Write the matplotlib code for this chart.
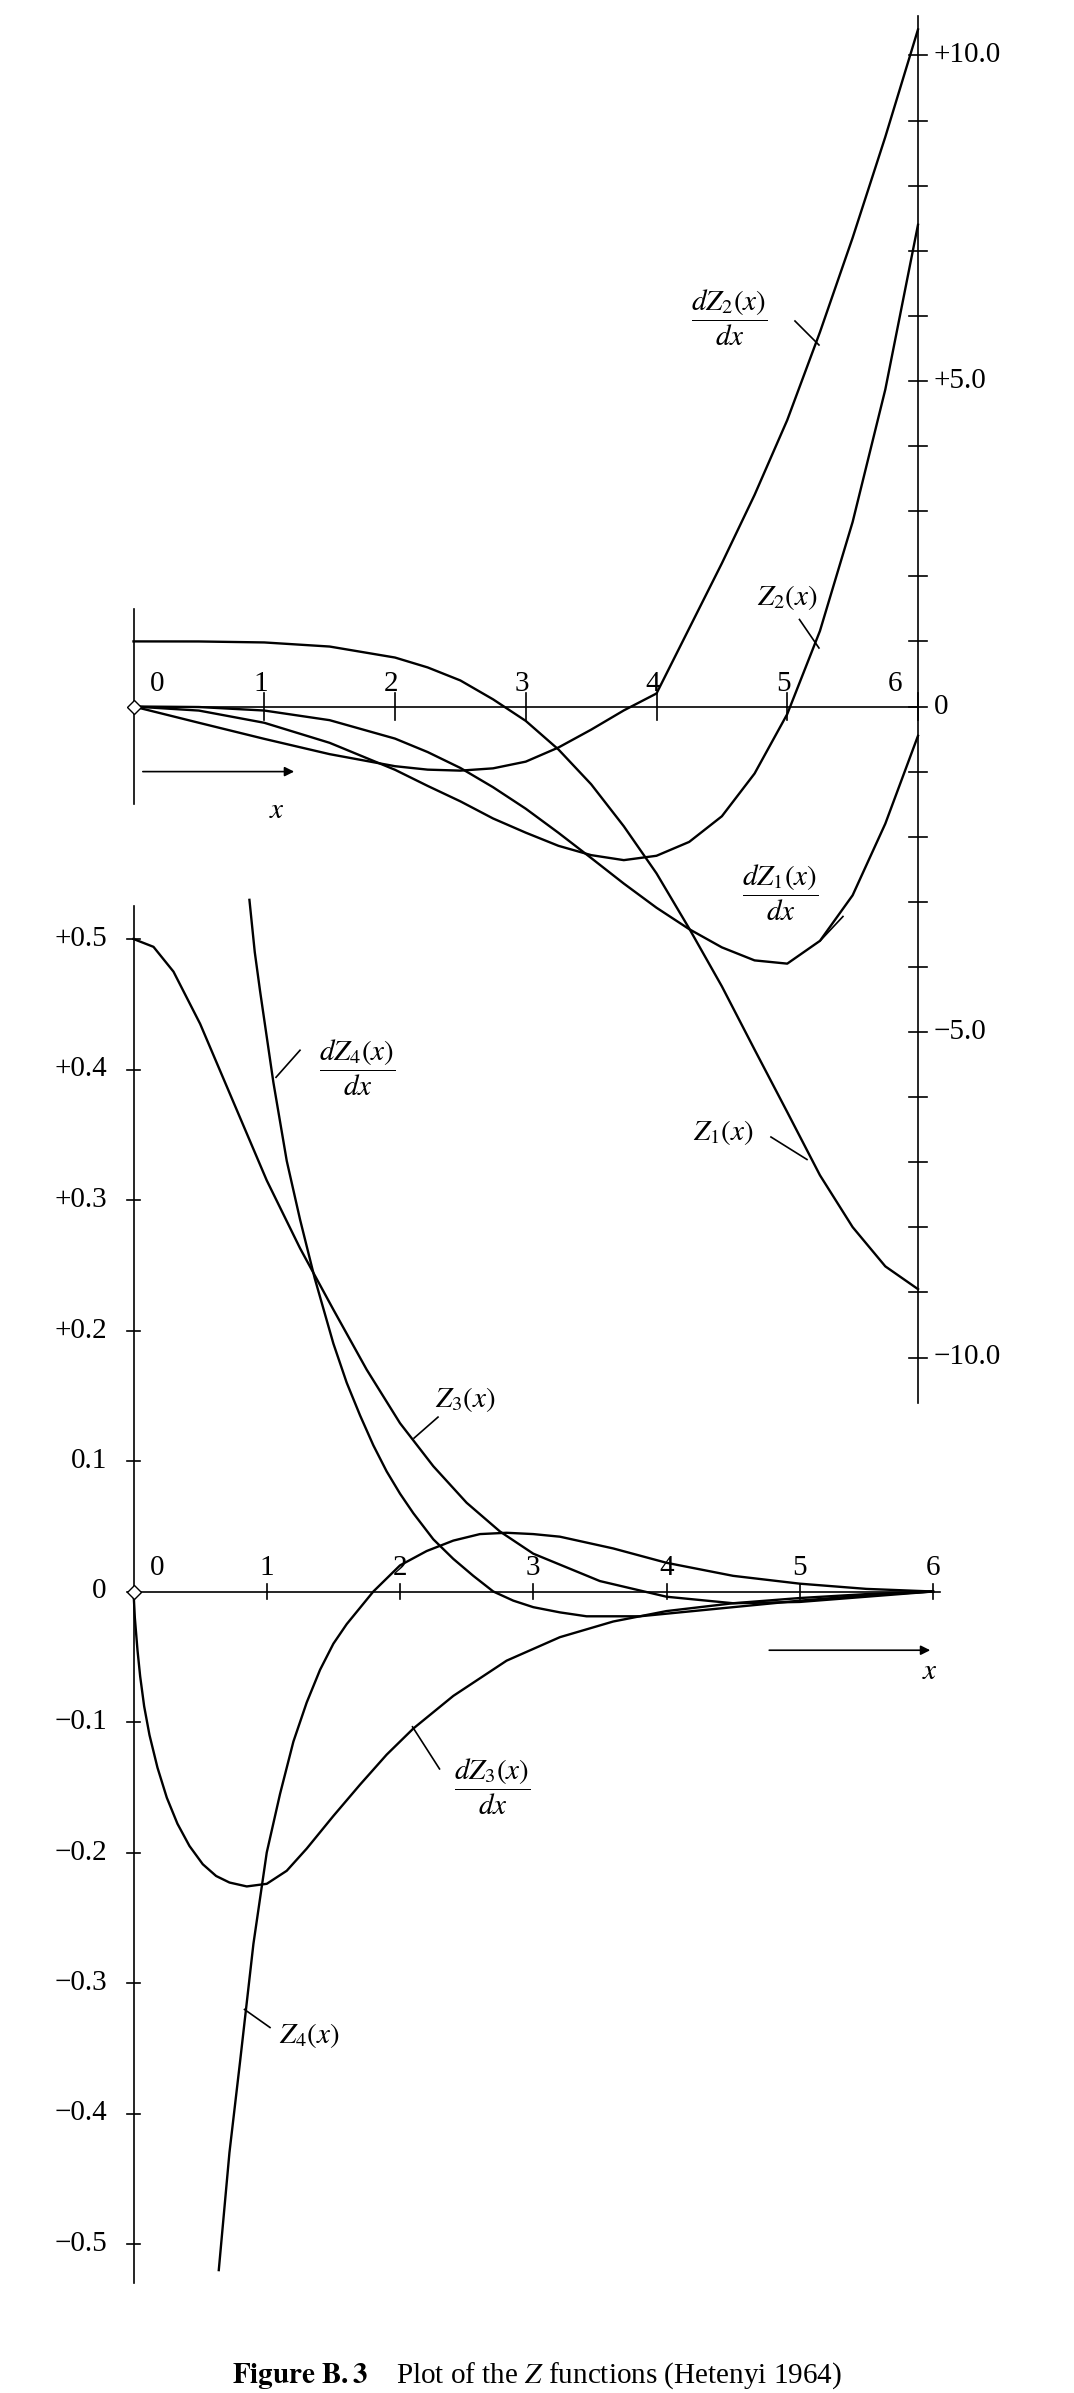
import numpy as np
import matplotlib
matplotlib.use("Agg")
import matplotlib.pyplot as plt

plt.rcParams['font.family'] = ['Liberation Serif', 'DejaVu Serif']
plt.rcParams['mathtext.fontset'] = 'stix'

# ---------- data ----------
x_top = [0, 0.5, 1, 1.5, 2, 2.25, 2.5, 2.75, 3, 3.25, 3.5, 3.75, 4, 4.25, 4.5, 4.75, 5, 5.25, 5.5, 5.75, 6]
z1 = [1.0, 0.999, 0.984, 0.921, 0.752, 0.60, 0.400, 0.11, -0.221, -0.66, -1.194, -1.84, -2.563, -3.41, -4.299, -5.27, -6.230, -7.2, -7.997, -8.6, -8.95]
z2 = [0.0, -0.0625, -0.250, -0.558, -0.972, -1.22, -1.457, -1.72, -1.938, -2.14, -2.283, -2.36, -2.293, -2.08, -1.686, -1.03, -0.116, 1.16, 2.834, 4.87, 7.4]
dz1 = [0.0, -0.008, -0.062, -0.210, -0.493, -0.70, -0.944, -1.24, -1.570, -1.94, -2.327, -2.72, -3.091, -3.42, -3.700, -3.90, -3.95, -3.60, -2.90, -1.80, -0.45]
dz2 = [0.0, -0.250, -0.497, -0.732, -0.917, -0.97, -0.985, -0.95, -0.847, -0.63, -0.356, -0.06, 0.2, 1.2, 2.2, 3.25, 4.4, 5.75, 7.2, 8.75, 10.4]

x_z3 = [0, 0.15, 0.3, 0.5, 0.75, 1, 1.25, 1.5, 1.75, 2, 2.25, 2.5, 2.75, 3, 3.5, 4, 4.5, 5, 5.5, 6]
z3 = [0.5, 0.494, 0.475, 0.435, 0.375, 0.315, 0.263, 0.216, 0.170, 0.129, 0.096, 0.068, 0.046, 0.029, 0.008, -0.004, -0.009, -0.008, -0.004, 0.0]

x_z4 = [0.64, 0.68, 0.72, 0.76, 0.8, 0.85, 0.9, 0.95, 1.0, 1.1, 1.2, 1.3, 1.4, 1.5, 1.6, 1.8, 2.0, 2.2, 2.4, 2.6, 2.8, 3.0, 3.2, 3.6, 4.0, 4.5, 5.0, 5.5, 6.0]
z4 = [-0.52, -0.475, -0.43, -0.395, -0.36, -0.315, -0.27, -0.235, -0.20, -0.155, -0.115, -0.085, -0.06, -0.04, -0.025, 0.0, 0.02, 0.031, 0.039, 0.044, 0.045, 0.044, 0.042, 0.033, 0.022, 0.012, 0.006, 0.002, 0.0]

x_dz3 = [0, 0.01, 0.03, 0.05, 0.08, 0.12, 0.18, 0.25, 0.33, 0.42, 0.52, 0.62, 0.72, 0.85, 1.0, 1.15, 1.3, 1.5, 1.7, 1.9, 2.1, 2.4, 2.8, 3.2, 3.6, 4.0, 4.5, 5.0, 5.5, 6.0]
dz3 = [0.0, -0.02, -0.045, -0.065, -0.088, -0.11, -0.135, -0.158, -0.178, -0.195, -0.209, -0.218, -0.223, -0.226, -0.224, -0.214, -0.197, -0.172, -0.148, -0.125, -0.105, -0.08, -0.053, -0.035, -0.023, -0.015, -0.009, -0.005, -0.002, 0.0]

x_dz4 = [0.87, 0.91, 0.95, 1.0, 1.05, 1.1, 1.15, 1.25, 1.36, 1.5, 1.6, 1.7, 1.8, 1.9, 2.0, 2.1, 2.25, 2.4, 2.55, 2.7, 2.85, 3.0, 3.2, 3.4, 3.8, 4.2, 4.6, 5.0, 5.5, 6.0]
dz4 = [0.53, 0.49, 0.46, 0.425, 0.39, 0.36, 0.33, 0.285, 0.24, 0.19, 0.16, 0.135, 0.112, 0.092, 0.075, 0.06, 0.04, 0.025, 0.012, 0.0, -0.007, -0.012, -0.016, -0.019, -0.019, -0.015, -0.011, -0.007, -0.003, 0.0]

top_yticks = [-10.0, -5.0, 0, 5.0, 10.0]
top_yticklabels = ['\u221210.0', '\u22125.0', '0', '+5.0', '+10.0']
bot_yticks = [0.5, 0.4, 0.3, 0.2, 0.1, 0, -0.1, -0.2, -0.3, -0.4, -0.5]
bot_yticklabels = ['+0.5', '+0.4', '+0.3', '+0.2', '0.1', '0', '\u22120.1', '\u22120.2', '\u22120.3', '\u22120.4', '\u22120.5']
xticks = [0, 1, 2, 3, 4, 5, 6]

W, H = 1074, 2393
fig = plt.figure(figsize=(W/100, H/100), dpi=100)
S = 1.5

def frac(px, py):
    return px*S/W, 1 - py*S/H

l, t = frac(89, 37); r, b = frac(612, 905)
ax1 = fig.add_axes([l, b, r-l, t-b])
ax1.set_xlim(0, 6); ax1.set_ylim(-10, 10)
ax1.axis('off')
l2, t2 = frac(89, 626); r2, b2 = frac(622, 1496)
ax2 = fig.add_axes([l2, b2, r2-l2, t2-b2])
ax2.set_xlim(0, 6); ax2.set_ylim(-0.5, 0.5)
ax2.axis('off')

kw = dict(color='black', lw=1.7, clip_on=False, solid_joinstyle='round')
lw_ax = dict(color='black', lw=1.2, clip_on=False)
fs = 21

# ---- top chart ----
for ys in (z1, z2, dz1, dz2):
    ax1.plot(x_top, ys, **kw)
ax1.plot([0, 6], [0, 0], **lw_ax)
ax1.plot([0, 0], [1.5, -1.5], **lw_ax)
ax1.plot([6, 6], [10.6, -10.7], **lw_ax)
for v in np.arange(-10, 11, 1):
    ax1.plot([5.93, 6.07], [v, v], **lw_ax)
for xt in xticks[1:]:
    ax1.plot([xt, xt], [-0.2, 0.2], **lw_ax)
    ax1.text(xt - 0.03 if xt < 6 else xt - 0.12, 0.15, str(xt), fontsize=fs, ha='right' if xt == 6 else 'center', va='bottom')
ax1.text(0.18, 0.15, '0', fontsize=fs, ha='center', va='bottom')
for v, s in zip(top_yticks, top_yticklabels):
    ax1.text(6.12, v, s, fontsize=fs, ha='left', va='center')
ax1.plot([0], [0], marker='D', ms=7, mfc='white', mec='black', clip_on=False, zorder=5)
ax1.annotate('', xy=(1.25, -1.0), xytext=(0.05, -1.0),
             arrowprops=dict(arrowstyle='-|>', color='black', lw=1.2, mutation_scale=14))
ax1.text(1.1, -1.4, '$x$', fontsize=fs, ha='center', va='top')

def tp(px, py):
    return (px-89)/87.17, (471-py)/43.4

def lab(ax, conv, txt, pos, l0, l1):
    ax.text(*conv(*pos), txt, fontsize=fs, ha='center', va='center')
    a, b_ = conv(*l0); c, d = conv(*l1)
    ax.plot([a, c], [b_, d], color='black', lw=1.2, clip_on=False)

lab(ax1, tp, r'$\dfrac{dZ_2(x)}{dx}$', (486, 212), (530, 214), (546, 230))
lab(ax1, tp, r'$Z_2(x)$', (525, 398), (533, 413), (546, 432))
lab(ax1, tp, r'$\dfrac{dZ_1(x)}{dx}$', (520, 595), (547, 627), (562, 611))
lab(ax1, tp, r'$Z_1(x)$', (482, 755), (514, 758), (538, 773))

# ---- bottom chart ----
for xs, ys in ((x_z3, z3), (x_z4, z4), (x_dz3, dz3), (x_dz4, dz4)):
    ax2.plot(xs, ys, **kw)
ax2.plot([0, 6.05], [0, 0], **lw_ax)
ax2.plot([0, 0], [0.525, -0.53], **lw_ax)
for v, s in zip(bot_yticks, bot_yticklabels):
    ax2.plot([-0.05, 0.05], [v, v], **lw_ax)
    ax2.text(-0.2, v, s, fontsize=fs, ha='right', va='center')
for xt in xticks[1:]:
    ax2.plot([xt, xt], [-0.006, 0.006], **lw_ax)
    ax2.text(xt, 0.008, str(xt), fontsize=fs, ha='center', va='bottom')
ax2.text(0.18, 0.008, '0', fontsize=fs, ha='center', va='bottom')
ax2.plot([0], [0], marker='D', ms=7, mfc='white', mec='black', clip_on=False, zorder=5)
ax2.annotate('', xy=(6.0, -0.045), xytext=(4.75, -0.045),
             arrowprops=dict(arrowstyle='-|>', color='black', lw=1.2, mutation_scale=14))
ax2.text(5.98, -0.052, '$x$', fontsize=fs, ha='center', va='top')

def bp(px, py):
    return (px-89)/88.83, (1060-py)/868

lab(ax2, bp, r'$\dfrac{dZ_4(x)}{dx}$', (238, 712), (200, 700), (184, 718))
lab(ax2, bp, r'$Z_3(x)$', (310, 932), (292, 944), (276, 958))
lab(ax2, bp, r'$\dfrac{dZ_3(x)}{dx}$', (328, 1190), (293, 1178), (275, 1150))
lab(ax2, bp, r'$Z_4(x)$', (206, 1355), (180, 1350), (163, 1338))

fig.text(0.5, 1 - 1584*S/H, r'$\mathbf{Figure\ B.3}$' + '    Plot of the $Z$ functions (Hetenyi 1964)',
         fontsize=fs, ha='center', va='center')

fig.savefig('out.png', dpi=100, facecolor='white')
